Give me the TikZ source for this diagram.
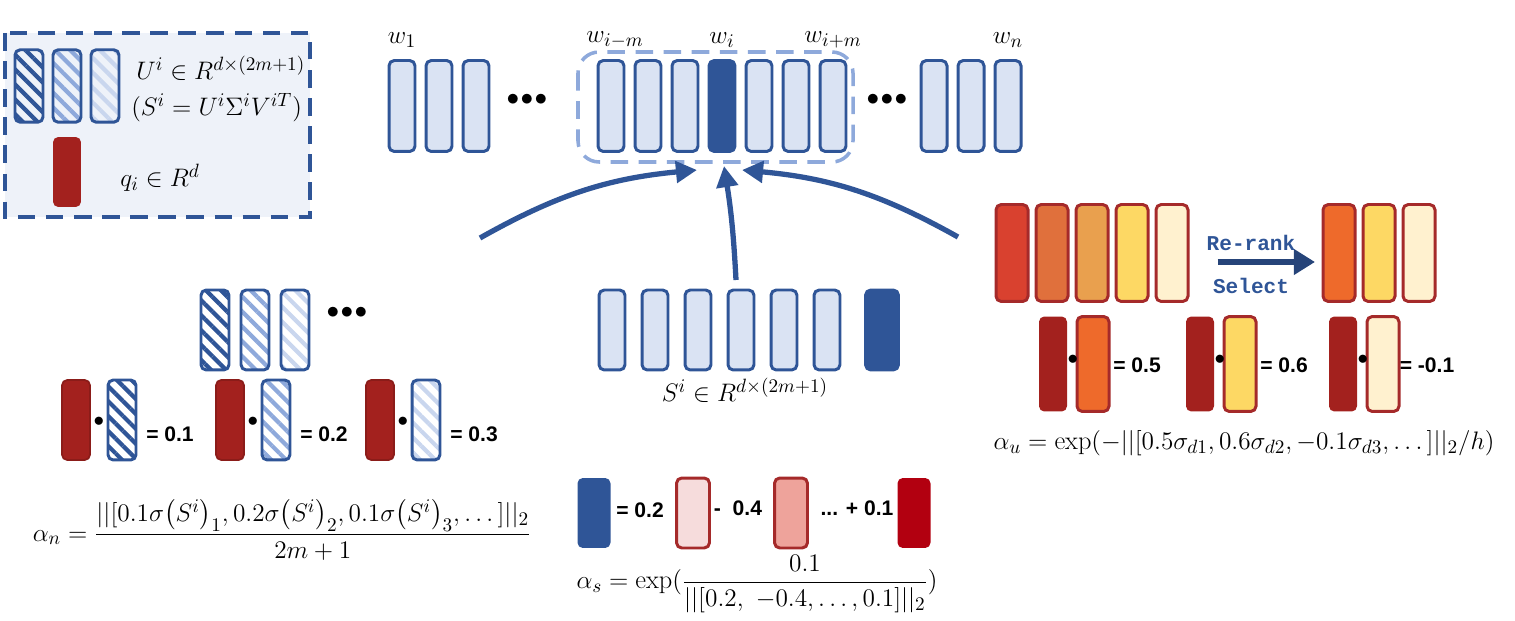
\documentclass[tikz,border=0pt]{standalone}
\usepackage{amsmath}
\usepackage{fontspec}
\newfontfamily\sansb{Liberation Sans}
\newfontfamily\monob{Liberation Mono}
\usetikzlibrary{arrows.meta,patterns.meta}
\definecolor{bblue}{HTML}{2F5597}
\definecolor{lblue}{HTML}{DAE3F3}
\definecolor{legbg}{HTML}{EEF2F9}
\definecolor{hmid}{HTML}{8EA9DB}
\definecolor{hlight}{HTML}{C9D6EE}
\definecolor{qred}{HTML}{A3211E}
\definecolor{rborder}{HTML}{A52A2A}
\definecolor{o1}{HTML}{D9412F}
\definecolor{o2}{HTML}{E0703C}
\definecolor{o3}{HTML}{E9A04E}
\definecolor{o4}{HTML}{FDD864}
\definecolor{o5}{HTML}{FFF1CF}
\definecolor{osel}{HTML}{EE6A2B}
\definecolor{p1}{HTML}{F6DCDC}
\definecolor{p2}{HTML}{EEA39B}
\definecolor{p3}{HTML}{B20010}
\begin{document}
\begin{tikzpicture}[x=0.02cm,y=-0.02cm,
  bar/.style={draw=bblue,fill=lblue,line width=1.7pt,rounded corners=3pt,minimum width=0.52cm,minimum height=1.82cm,inner sep=0pt},
  dbar/.style={bar,fill=bblue},
  hbar/.style={draw=bblue,line width=1.7pt,rounded corners=3pt,minimum width=0.56cm,minimum height=#1,inner sep=0pt},
  hdark/.style={pattern={Lines[angle=-45,distance=6pt,line width=2.4pt]},pattern color=bblue},
  hmed/.style={pattern={Lines[angle=-45,distance=6pt,line width=2.4pt]},pattern color=hmid},
  hlig/.style={pattern={Lines[angle=-45,distance=6pt,line width=2.4pt]},pattern color=hlight},
  qbar/.style={fill=qred,rounded corners=3pt,minimum width=0.56cm,minimum height=#1,inner sep=0pt},
  obar/.style={draw=rborder,line width=1.7pt,rounded corners=3pt,minimum width=0.64cm,minimum height=#1,inner sep=0pt},
  val/.style={font=\sansb\bfseries\large,inner sep=1pt},
  lab/.style={font=\fontsize{15}{18}\selectfont,inner sep=0pt},
  big/.style={line width=3pt,draw=bblue,-{Triangle[length=12pt,width=12pt]}},
  dots/.style={font=\Large,inner sep=0pt},
  bul/.style={font=\large,inner sep=0pt}]
\useasboundingbox (0,0) rectangle (1515,621);

% legend
\draw[bblue,line width=2.2pt,dash pattern=on 10pt off 6pt,fill=legbg] (5,33) rectangle (310,217);
\node[hbar=1.45cm,hdark] (l1) at (29,86) {};
\node[hbar=1.45cm,hmed] (l2) at (67,86) {};
\node[hbar=1.45cm,hlig] (l3) at (105,86) {};
\node[qbar=1.4cm] (lq) at (67,172) {};
\node[lab,anchor=west] (lu) at (136,68) {$U^i\in R^{d\times(2m+1)}$};
\node[lab,anchor=west] (ls) at (131,108) {$(S^i=U^i\Sigma^i V^{iT})$};
\node[lab,anchor=west] (lqt) at (120,178) {$q_i\in R^d$};

% top row
\foreach \n/\x in {a1/402,a2/439,a3/476,b1/611,b2/648,b3/685,b5/759,b6/796,b7/833,c1/934,c2/971,c3/1008}
  \node[bar] (\n) at (\x,106) {};
\node[dbar] (wi) at (722,106) {};
\node[dots] (d1) at (527,100) {$\bullet\!\bullet\!\bullet$};
\node[dots] (d2) at (887,100) {$\bullet\!\bullet\!\bullet$};
\draw[hmid,line width=2pt,dash pattern=on 10pt off 6pt,rounded corners=12pt] (578,52) rectangle (853,162);
\node[lab] (w1) at (402,40) {$w_1$};
\node[lab] (wim) at (615,40) {$w_{i-m}$};
\node[lab] (wit) at (722,40) {$w_i$};
\node[lab] (wip) at (833,40) {$w_{i+m}$};
\node[lab] (wn) at (1008,40) {$w_n$};

% arrows
\coordinate (sl) at (480,238);
\coordinate (sm) at (736,280);
\coordinate (sr) at (958,237);
\coordinate (tl) at (697,170);
\coordinate (tm) at (724,166);
\coordinate (tr) at (742,170);
\draw[big] (sl) to[bend left=12] (tl);
\draw[big] (sm) to[bend right=3] (tm);
\draw[big] (sr) to[bend right=12] (tr);

% middle
\foreach \n/\x in {m1/612,m2/655,m3/698,m4/741,m5/784,m6/827}
  \node[bar,minimum height=1.6cm] (\n) at (\x,330) {};
\node[dbar,minimum height=1.6cm,minimum width=0.66cm] (m7) at (882,330) {};
\node[lab] (sl2) at (745,390) {$S^i\in R^{d\times(2m+1)}$};
\node[fill=bblue,rounded corners=3pt,minimum width=0.66cm,minimum height=1.4cm,inner sep=0pt] (s0) at (594,513) {};
\node[val] (v1) at (640,510) {= 0.2};
\node[obar=1.4cm,fill=p1,minimum width=0.66cm] (s1) at (693,513) {};
\node[val] (v2) at (738,508) {-\ \ 0.4};
\node[obar=1.4cm,fill=p2,minimum width=0.66cm] (s2) at (791,513) {};
\node[val] (v3) at (857,508) {... + 0.1};
\node[fill=p3,rounded corners=3pt,minimum width=0.66cm,minimum height=1.4cm,inner sep=0pt] (s3) at (914,513) {};
\node[lab] (as) at (757,584) {$\alpha_s=\exp(\dfrac{0.1}{||[0.2,\ -0.4,\dots,0.1]||_2})$};

% left
\node[hbar=1.6cm,hdark] (h1) at (215,330) {};
\node[hbar=1.6cm,hmed] (h2) at (255,330) {};
\node[hbar=1.6cm,hlig] (h3) at (295,330) {};
\node[dots] (d3) at (347,313) {$\bullet\!\bullet\!\bullet$};
\foreach \i/\x/\st/\v in {1/76/hdark/0.1,2/230/hmed/0.2,3/380/hlig/0.3}{
  \node[qbar=1.6cm,draw=qred!85!black,line width=1pt] (q\i) at (\x,420) {};
  \node[hbar=1.6cm,\st] (u\i) at (\x+46,420) {};
  \node[bul] (dt\i) at (\x+23,422) {$\bullet$};
  \node[val] (e\i) at (\x+94,434) {= \v};
}
\node[lab] (an) at (282,530) {$\alpha_n=\dfrac{||[0.1\sigma\bigl(S^i\bigr)_1,0.2\sigma\bigl(S^i\bigr)_2,0.1\sigma\bigl(S^i\bigr)_3,\dots]||_2}{2m+1}$};

% right
\foreach \n/\x/\c in {r1/1012/o1,r2/1052/o2,r3/1092/o3,r4/1132/o4,r5/1172/o5}
  \node[obar=1.94cm,fill=\c] (\n) at (\x,253) {};
\foreach \n/\x/\c in {t1/1339/osel,t2/1379/o4,t3/1419/o5}
  \node[obar=1.94cm,fill=\c] (\n) at (\x,253) {};
\draw[line width=3pt,draw=bblue!80!black,-{Triangle[length=12pt,width=14pt]}] (r5.east |- 0,262) ++(28,0) coordinate (ra) -- (1315,262) coordinate (rb);
\node[font=\monob\bfseries\large,text=bblue] (rr) at (1251,243) {Re-rank};
\node[font=\monob\bfseries\large,text=bblue] (rs) at (1251,286) {Select};
\foreach \i/\x/\c/\v in {1/1053/osel/0.5,2/1200/o4/0.6,3/1343/o5/-0.1}{
  \node[qbar=1.9cm] (rq\i) at (\x,364) {};
  \node[obar=1.9cm,fill=\c] (ro\i) at (\x+40,364) {};
  \node[bul] (rd\i) at (\x+20,360) {$\bullet$};
  \node[val] (re\i) at (\x+84,365) {= \v};
}
\node[lab] (au) at (1244,443) {$\alpha_u=\exp(-||[0.5\sigma_{d1},0.6\sigma_{d2},-0.1\sigma_{d3},\dots]||_2/h)$};
\end{tikzpicture}
\end{document}
